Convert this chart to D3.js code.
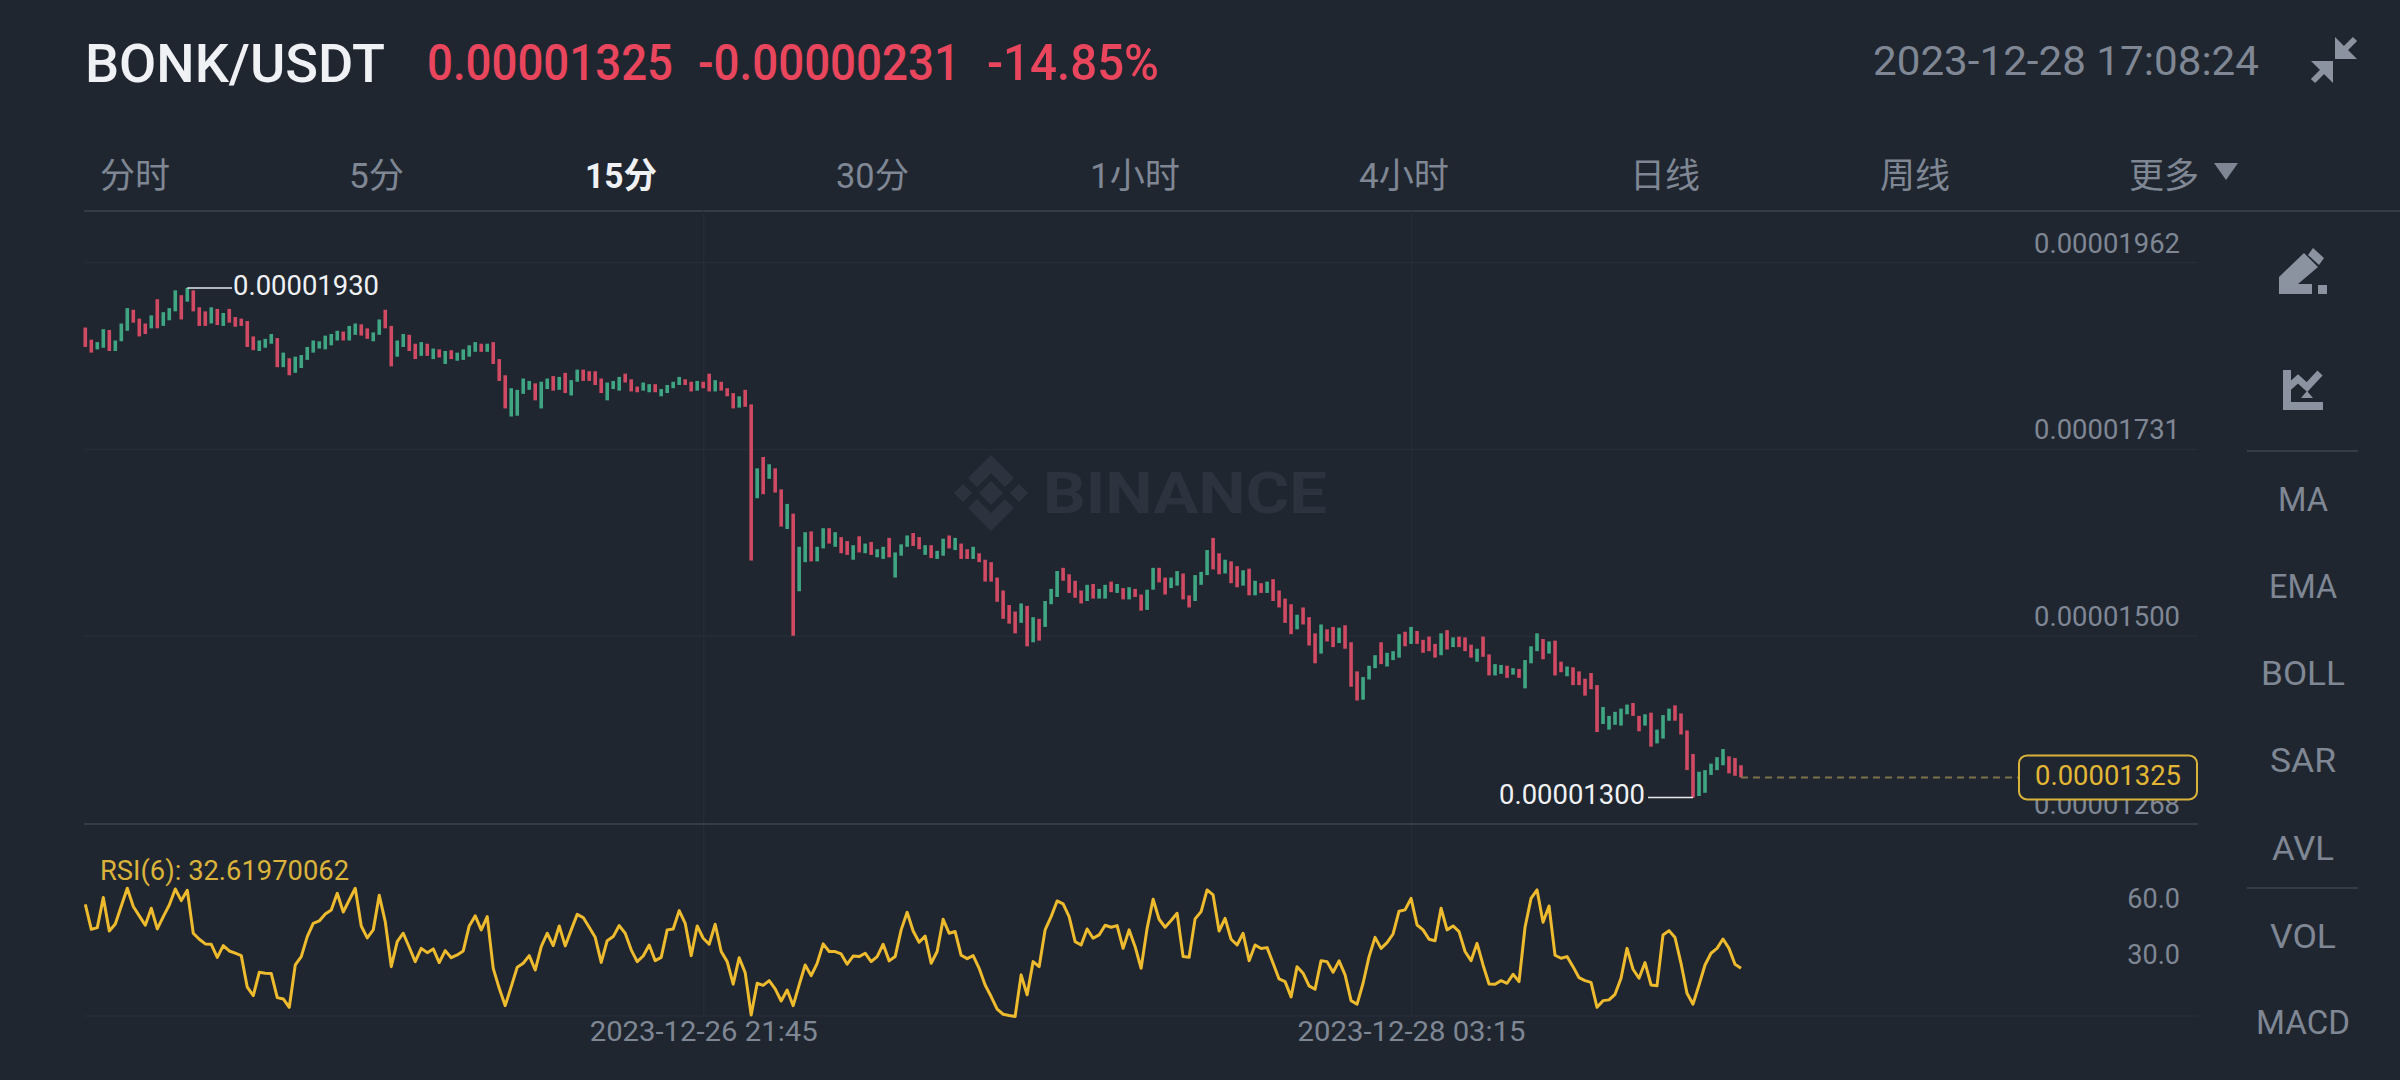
<!DOCTYPE html>
<html>
<head>
<meta charset="utf-8">
<script src="https://cdn.jsdelivr.net/npm/d3@7"></script>
<style>
  html, body { margin: 0; padding: 0; background: #1f2630; }
  svg { display: block; }
  text { font-family: Roboto, "Noto Sans CJK SC", sans-serif; }
</style>
</head>
<body>
<svg id="chart" width="2400" height="1080"></svg>
<script>
// prices are in units of 0.00000001
const candleOpen = [1881,1866,1854,1856,1878,1852,1864,1877,1903,1892,1886,1880,1916,1883,1890,1901,1921,1913,1927,1906,
  1901,1886,1904,1883,1904,1894,1892,1889,1870,1852,1856,1861,1868,1832,1843,1825,1831,1841,1850,1855,
  1854,1859,1865,1876,1865,1872,1885,1880,1864,1872,1903,1883,1845,1857,1872,1861,1846,1861,1842,1854,
  1836,1853,1840,1841,1845,1851,1861,1851,1863,1842,1822,1771,1772,1799,1804,1812,1781,1805,1821,1804,
  1825,1797,1814,1829,1827,1827,1818,1791,1805,1803,1824,1817,1808,1803,1801,1811,1796,1800,1806,1810,
  1817,1814,1803,1814,1824,1802,1814,1806,1800,1782,1804,1786,1670,1721,1694,1707,1681,1632,1651,1555,
  1591,1629,1592,1608,1633,1610,1622,1617,1594,1623,1602,1616,1597,1595,1621,1572,1599,1610,1627,1622,
  1600,1612,1595,1599,1624,1606,1614,1607,1595,1602,1594,1591,1572,1556,1538,1530,1516,1537,1492,1521,
  1511,1539,1548,1584,1576,1568,1556,1543,1564,1546,1546,1567,1553,1559,1545,1558,1551,1532,1557,1584,
  1572,1559,1562,1577,1550,1543,1563,1575,1621,1602,1577,1592,1586,1562,1583,1550,1565,1553,1570,1556,
  1546,1539,1508,1535,1523,1503,1478,1508,1511,1491,1513,1492,1456,1421,1446,1460,1492,1462,1470,1473,
  1505,1490,1506,1495,1499,1490,1476,1507,1486,1499,1498,1489,1468,1499,1477,1451,1453,1463,1452,1459,
  1435,1466,1481,1496,1478,1494,1468,1450,1461,1456,1447,1454,1439,1391,1384,1390,1389,1403,1417,1401,
  1389,1405,1367,1373,1395,1414,1404,1383,1354,1302,1306,1328,1334,1340,1351,1349,1340];
const candleClose = [1857,1850,1863,1879,1852,1865,1886,1905,1887,1870,1873,1896,1880,1900,1905,1927,1891,1930,1901,1883,
  1883,1906,1884,1899,1887,1882,1883,1857,1853,1865,1867,1873,1832,1850,1822,1845,1847,1857,1865,1864,
  1871,1873,1877,1865,1883,1886,1871,1867,1875,1891,1880,1833,1865,1873,1852,1842,1863,1846,1855,1844,
  1852,1842,1850,1854,1859,1863,1851,1861,1836,1815,1781,1806,1804,1818,1815,1791,1814,1818,1803,1820,
  1800,1816,1829,1815,1815,1810,1800,1813,1815,1820,1813,1802,1801,1813,1811,1801,1805,1810,1814,1820,
  1810,1802,1815,1806,1802,1816,1803,1796,1781,1796,1783,1593,1707,1675,1712,1677,1635,1663,1500,1610,
  1628,1592,1610,1633,1614,1628,1602,1600,1612,1603,1614,1600,1607,1610,1597,1603,1613,1624,1611,1607,
  1612,1596,1605,1620,1608,1621,1595,1595,1610,1591,1567,1567,1542,1521,1515,1503,1540,1487,1523,1494,
  1543,1558,1580,1568,1553,1547,1540,1563,1546,1558,1563,1554,1564,1545,1560,1548,1531,1557,1584,1566,
  1551,1572,1580,1545,1535,1575,1579,1606,1582,1576,1594,1565,1560,1581,1550,1568,1553,1567,1543,1535,
  1516,1502,1526,1514,1488,1466,1514,1493,1486,1510,1484,1437,1420,1449,1463,1476,1465,1479,1481,1502,
  1487,1511,1490,1479,1481,1473,1503,1483,1498,1486,1481,1473,1484,1474,1451,1465,1464,1448,1460,1448,
  1470,1487,1503,1471,1493,1451,1455,1462,1439,1439,1426,1434,1381,1412,1401,1406,1410,1415,1401,1382,
  1403,1363,1384,1402,1410,1395,1378,1334,1300,1332,1334,1342,1350,1360,1330,1327,1325];

const rsiValues = [66.8,53.4,54.3,70.4,52.5,56.3,65.9,75.4,65.6,60.6,55.6,64.7,53.6,60.2,66.4,75.0,68.8,74.3,51.3,48.1,
  45.6,45.4,38.4,44.7,41.8,40.6,39.3,22.4,17.9,30.4,29.9,29.7,16.8,16.1,11.6,34.3,38.8,49.5,56.6,57.9,
  61.6,63.8,72.7,62.7,69.1,75.4,55.2,48.8,53.1,71.6,57.5,33.4,46.8,51.3,43.8,36.1,43.2,40.9,42.9,35.6,
  42.0,38.2,39.7,41.8,55.2,60.6,53.1,60.2,32.5,21.8,12.5,22.7,33.1,35.2,39.3,31.6,44.1,51.3,44.7,55.2,
  44.5,53.1,61.4,59.7,54.5,49.1,35.7,47.3,49.5,55.4,51.3,42.4,36.1,39.1,45.0,36.6,38.4,53.1,53.6,63.4,
  56.6,39.3,55.2,48.6,45.4,56.1,41.5,36.1,24.0,38.2,30.2,7.5,24.5,23.4,25.9,21.5,15.0,20.9,12.5,23.6,
  34.3,28.6,35.2,45.6,41.5,41.5,40.2,34.7,39.1,38.8,40.6,36.1,38.8,45.4,36.5,38.8,53.1,62.5,52.5,46.5,
  49.8,35.2,41.5,58.8,51.3,52.2,39.5,37.7,39.3,32.5,23.6,17.4,10.6,7.9,7.2,6.7,29.0,18.3,36.1,33.4,
  53.1,60.2,68.6,67.0,60.2,46.8,45.0,53.6,48.6,50.4,55.6,54.5,55.4,43.2,53.1,44.1,32.5,53.9,69.5,58.8,
  54.5,58.1,62.0,38.8,38.4,59.0,62.9,74.5,71.8,52.5,59.3,48.1,45.0,51.3,36.6,45.0,43.1,43.6,35.2,26.8,
  25.4,17.2,33.4,29.9,23.1,21.3,36.6,36.1,30.4,36.5,29.0,15.2,13.3,24.5,38.8,49.1,43.2,46.3,50.9,63.1,
  63.8,70.0,55.7,53.1,48.1,47.3,64.7,53.1,55.2,52.2,41.5,36.6,45.9,34.3,24.1,24.0,25.9,24.5,29.3,25.4,
  54.5,70.0,74.5,57.2,65.9,39.5,37.9,38.8,33.4,27.5,25.9,25.0,11.6,15.2,15.6,18.6,27.2,43.2,32.0,27.2,
  35.6,23.6,23.2,50.4,52.7,49.0,35.2,19.1,13.3,23.6,34.3,40.6,43.2,48.2,43.2,34.7,32.6];

const priceTicks = [1962, 1731, 1500, 1268];
const rsiTicks = [60, 30];
const timeTickIndex = [103, 221];
const timeTickLabels = ["2023-12-26 21:45", "2023-12-28 03:15"];
const lastPrice = 1325;
const highPrice = 1930, highIndex = 17;
const lowPrice = 1300, lowIndex = 268;

const periods = ["分时", "5分", "15分", "30分", "1小时", "4小时", "日线", "周线", "更多"];
const indicators = ["MA", "EMA", "BOLL", "SAR", "AVL", "VOL", "MACD"];

const GREY = "#7f8794", RED = "#e9465e", CANDLE_RED = "#cf4a62", CANDLE_GREEN = "#3fa582",
      YELLOW = "#e3b734", BG = "#1f2630", GRID = "#262c37", LINE = "#363c47";

const svg = d3.select("#chart");
const fmt = v => (v * 1e-8).toFixed(8);

const x = d3.scaleLinear().domain([0, candleOpen.length - 1]).range([85.3, 1741]);
const y = d3.scaleLinear().domain([1268, 1962]).range([823.5, 262]);
const yRsi = d3.scaleLinear().domain([30, 60]).range([973, 917]);

// text with a fixed width, the original font is narrower than anything installed
function label(str, px, py, size, color, width, anchor) {
  const t = svg.append("text")
    .attr("x", px).attr("y", py).attr("font-size", size)
    .attr("fill", color).attr("dominant-baseline", "central")
    .attr("text-anchor", anchor || "start").text(str);
  if (width) t.attr("textLength", width).attr("lengthAdjust", "spacingAndGlyphs");
  return t;
}

// header
label("BONK/USDT", 85, 63, 54, "#f0f1f5", 300).attr("font-weight", 500);
label("0.00001325", 427, 63, 50, RED, 246).attr("font-weight", 500);
label("-0.00000231", 698, 63, 50, RED, 262).attr("font-weight", 500);
label("-14.85%", 987, 63, 50, RED, 172).attr("font-weight", 500);
label("2023-12-28 17:08:24", 1873, 61, 41, GREY, 386);

svg.append("path").attr("fill", "#8b93a0")
  .attr("d", "M2335 37V59H2357ZM2311 61H2333V83Z");
svg.append("path").attr("stroke", "#8b93a0").attr("stroke-width", 6).attr("fill", "none")
  .attr("d", "M2343 51L2355 39M2325 69L2313 81");

// period tabs
const tabX = [100, 349, 585, 836, 1090, 1359, 1630, 1880, 2129];
const tabW = [70, 55, 72, 73, 90, 90, 70, 70, 70];
periods.forEach((p, i) => {
  const t = label(p, tabX[i], 176, 35, p === "15分" ? "#f0f1f5" : GREY, tabW[i]);
  if (p === "15分") t.attr("font-weight", 700);
});
svg.append("path").attr("fill", GREY).attr("d", "M2214 163H2238L2226 180Z");
svg.append("line").attr("x1", 84).attr("x2", 2400).attr("y1", 211).attr("y2", 211)
  .attr("stroke", LINE).attr("stroke-width", 2);

// vertical grid and time labels
const xAxis = d3.axisBottom(x).tickValues(timeTickIndex)
  .tickFormat((d, i) => timeTickLabels[i]).tickSize(-805).tickPadding(0);
const xG = svg.append("g").attr("transform", "translate(0,1016)").call(xAxis);
xG.select(".domain").remove();
xG.selectAll("line").attr("stroke", GRID).attr("stroke-width", 1.5);
xG.selectAll("text").attr("fill", GREY).attr("font-size", 27).attr("y", 16)
  .attr("dominant-baseline", "central").attr("dy", 0)
  .attr("font-family", "Roboto")
  .attr("textLength", 228).attr("lengthAdjust", "spacingAndGlyphs");

// price grid and labels
const yAxis = d3.axisRight(y).tickValues(priceTicks).tickFormat(fmt).tickSize(2198 - 84).tickPadding(0);
const yG = svg.append("g").attr("transform", "translate(84,0)").call(yAxis);
yG.select(".domain").remove();
yG.selectAll("line").attr("stroke", d => d === 1268 ? LINE : GRID).attr("stroke-width", d => d === 1268 ? 2 : 1.5);
yG.selectAll("text").attr("fill", GREY).attr("font-size", 27)
  .attr("x", 2180 - 84).attr("dy", -19).attr("text-anchor", "end")
  .attr("dominant-baseline", "central").attr("font-family", "Roboto")
  .attr("textLength", 146).attr("lengthAdjust", "spacingAndGlyphs");

// bottom rule of the rsi pane
svg.append("line").attr("x1", 84).attr("x2", 2198).attr("y1", 1016).attr("y2", 1016)
  .attr("stroke", GRID).attr("stroke-width", 1.5);

// watermark
const logo = svg.append("g").attr("fill", "#2d333e").attr("transform", "translate(991,493)");
logo.append("path").attr("d", "M0 -12L12 0L0 12L-12 0Z");
logo.append("path").attr("d", "M-37 0L-28 -9L-19 0L-28 9ZM37 0L28 -9L19 0L28 9Z");
logo.append("path").attr("d", "M0 -38L23 -15L14 -6L0 -20L-14 -6L-23 -15Z");
logo.append("path").attr("d", "M0 38L23 15L14 6L0 20L-14 6L-23 15Z");
label("BINANCE", 1043, 493, 57, "#2d333e", 284).attr("font-weight", 700);

// candles
svg.append("g").selectAll("rect").data(candleOpen).join("rect")
  .attr("x", (d, i) => x(i) - 1.8)
  .attr("width", 3.6)
  .attr("y", (d, i) => y(Math.max(d, candleClose[i])))
  .attr("height", (d, i) => Math.abs(y(d) - y(candleClose[i])))
  .attr("fill", (d, i) => candleClose[i] >= d ? CANDLE_GREEN : CANDLE_RED);

// high and low markers
svg.append("line").attr("x1", x(highIndex)).attr("x2", 232).attr("y1", y(highPrice)).attr("y2", y(highPrice))
  .attr("stroke", "#e6e8ec").attr("stroke-width", 1.5);
label(fmt(highPrice), 233, y(highPrice) - 2, 27, "#f0f1f5", 146);
svg.append("line").attr("x1", 1648).attr("x2", x(lowIndex)).attr("y1", y(lowPrice)).attr("y2", y(lowPrice))
  .attr("stroke", "#e6e8ec").attr("stroke-width", 1.5);
label(fmt(lowPrice), 1499, y(lowPrice) - 3, 27, "#f0f1f5", 146);

// last price
svg.append("line").attr("x1", x(candleOpen.length - 1)).attr("x2", 2019)
  .attr("y1", y(lastPrice)).attr("y2", y(lastPrice))
  .attr("stroke", "#7d7148").attr("stroke-width", 2).attr("stroke-dasharray", "7 5");
svg.append("rect").attr("x", 2019).attr("y", y(lastPrice) - 22).attr("width", 178).attr("height", 44)
  .attr("rx", 8).attr("fill", BG).attr("stroke", "#d9b23a").attr("stroke-width", 2);
label(fmt(lastPrice), 2108, y(lastPrice) - 1, 27, YELLOW, 146, "middle");

// rsi pane
label("RSI(6): 32.61970062", 100, 870, 28, "#dcb33a", 249);
const rsiAxis = d3.axisRight(yRsi).tickValues(rsiTicks).tickFormat(d => d.toFixed(1)).tickSize(0).tickPadding(0);
const rG = svg.append("g").attr("transform", "translate(2180,0)").call(rsiAxis);
rG.select(".domain").remove();
rG.selectAll("text").attr("fill", GREY).attr("font-size", 27).attr("x", 0).attr("dy", -19)
  .attr("text-anchor", "end").attr("dominant-baseline", "central").attr("font-family", "Roboto");

const rsiLine = d3.line().x((d, i) => x(i)).y(d => yRsi(d));
svg.append("path").datum(rsiValues).attr("d", rsiLine)
  .attr("fill", "none").attr("stroke", "#eebb2e").attr("stroke-width", 3).attr("stroke-linejoin", "round");

// right hand tools
const tool = "#8b93a0";
svg.append("path").attr("fill", tool)
  .attr("d", "M2279 294V277L2304 253L2318 267L2298 284H2312V294Z M2313 248L2324 258L2319 265L2308 255Z M2318 285H2327V294H2318Z");
svg.append("path").attr("fill", tool)
  .attr("d", "M2283 370H2291V402H2323V410H2283Z M2301 398H2313L2307 391Z");
svg.append("path").attr("stroke", tool).attr("stroke-width", 7).attr("fill", "none")
  .attr("d", "M2289 387L2298 379L2307 387L2320 373");
[451, 888].forEach(sy => svg.append("line").attr("x1", 2247).attr("x2", 2358).attr("y1", sy).attr("y2", sy)
  .attr("stroke", LINE).attr("stroke-width", 2));
const toolY = [499, 586, 673, 760, 848, 936, 1022];
const toolW = [50, 68, 84, 66, 62, 66, 94];
indicators.forEach((t, i) => label(t, 2303, toolY[i], 33, GREY, toolW[i], "middle"));
</script>
</body>
</html>
